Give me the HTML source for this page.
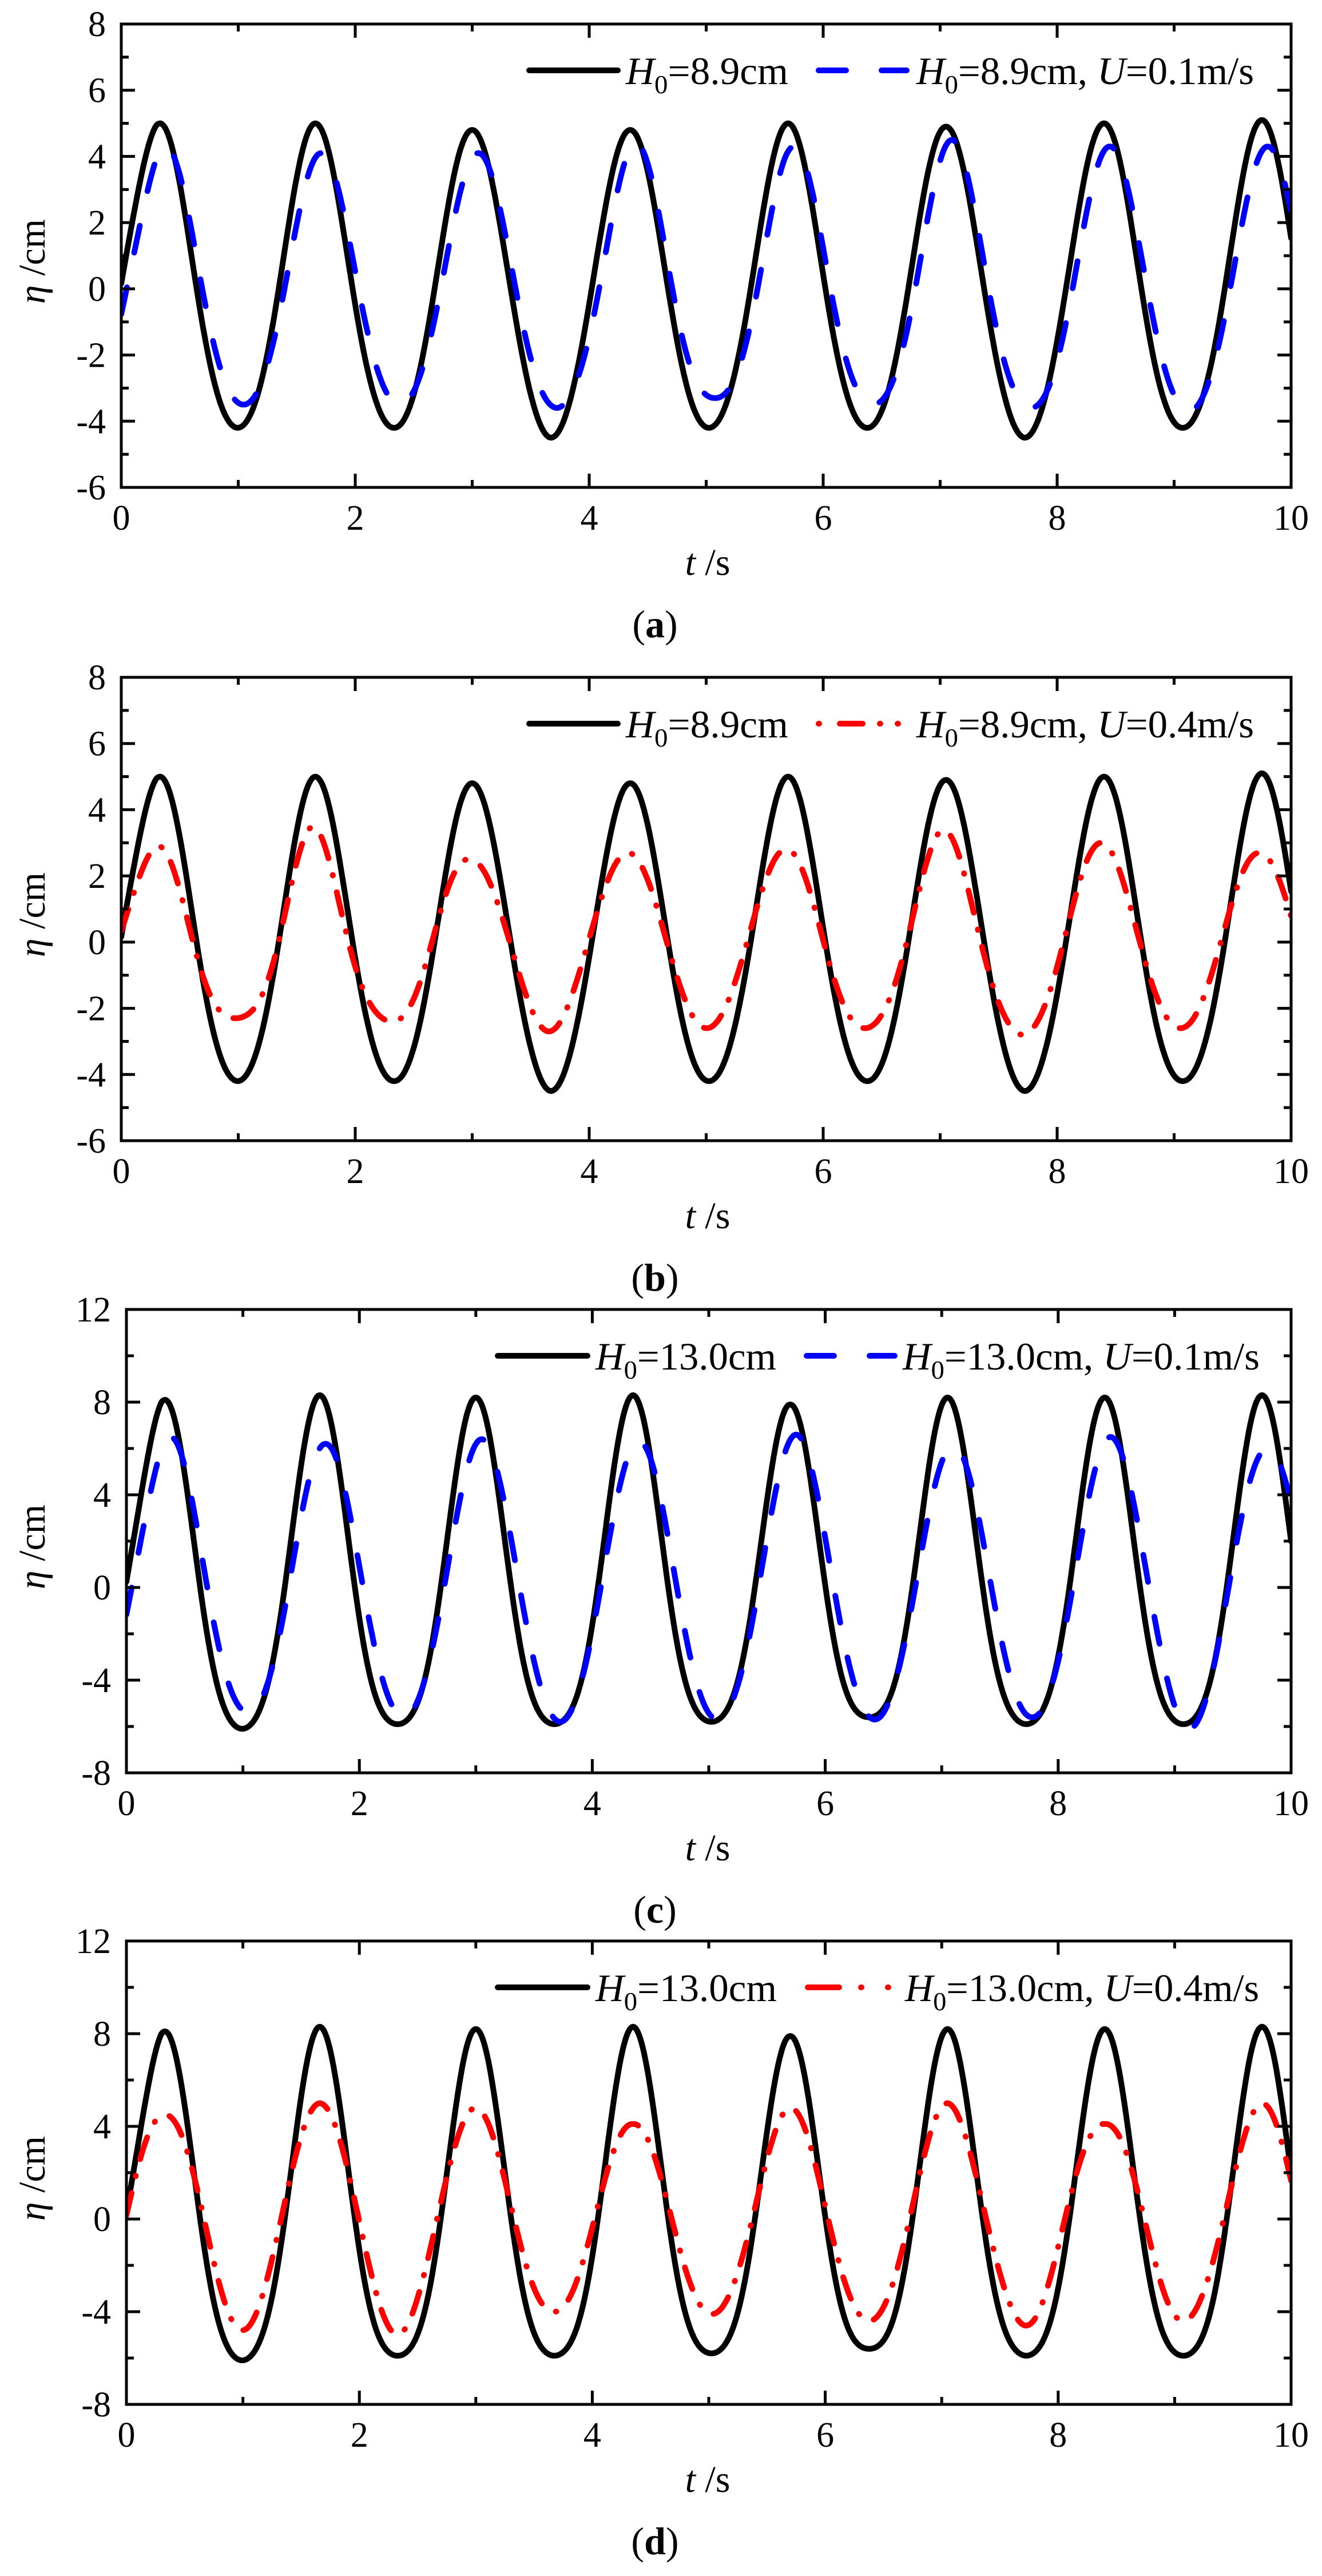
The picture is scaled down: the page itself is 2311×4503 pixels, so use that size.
<!DOCTYPE html>
<html><head><meta charset="utf-8"><style>
html,body{margin:0;padding:0;background:#fff;}
svg{display:block;}
text{font-family:"Liberation Serif",serif;fill:#000;}
</style></head><body>
<svg id="s" width="2311" height="4503" viewBox="0 0 2311 4503" xmlns="http://www.w3.org/2000/svg"></svg>
<script>
const NS="http://www.w3.org/2000/svg";
const S=document.getElementById('s');
function el(tag,attrs,parent,txt){const e=document.createElementNS(NS,tag);for(const k in attrs)e.setAttribute(k,attrs[k]);if(txt!==undefined)e.textContent=txt;(parent||S).appendChild(e);return e;}
const crestT=[0.33,1.66,3.0,4.35,5.7,7.05,8.4,9.75];
function interp(arr,t){
  if(t<=crestT[0])return arr[0];
  for(let i=0;i<arr.length-1&&i<crestT.length-1;i++){if(t<=crestT[i+1]){const f=(t-crestT[i])/(crestT[i+1]-crestT[i]);return arr[i]+(arr[i+1]-arr[i])*f;}}
  return arr[arr.length-1];
}
function phaseAt(t){
  const P=1.35;
  if(t<=crestT[0])return Math.PI/2-(crestT[0]-t)/P*2*Math.PI;
  for(let i=0;i<crestT.length-1;i++){if(t<=crestT[i+1]){const f=(t-crestT[i])/(crestT[i+1]-crestT[i]);return Math.PI/2+2*Math.PI*(i+f);}}
  return Math.PI/2+2*Math.PI*(crestT.length-1)+(t-crestT[crestT.length-1])/P*2*Math.PI;
}
function series(C,T,shift){
  const pts=[];
  for(let i=0;i<=1200;i++){
    const t=i/120;
    const tt=t-shift;
    const th=phaseAt(tt);
    const c=interp(C,tt), tr=interp(T,tt-0.67);
    const A=(c-tr)/2,B=(c+tr)/2;
    pts.push([t,A*Math.sin(th)-B*Math.cos(2*th)*(t<0.3?t/0.3:1)]);
  }
  return pts;
}
function panel(o){
  const L=o.L,R=2257,T=o.top,Bt=o.top+810;
  const xs=t=>L+(R-L)*t/10, ys=v=>Bt-(Bt-T)*(v-o.ymin)/(o.ymax-o.ymin);
  const id='c'+o.top;
  const cp=el('clipPath',{id:id});el('rect',{x:L,y:T,width:R-L,height:Bt-T},cp);
  o.curves.forEach(cv=>{
    const d=cv.pts.map((p,i)=>(i?'L':'M')+xs(p[0]).toFixed(1)+' '+ys(p[1]).toFixed(1)).join('');
    const a={d:d,fill:'none',stroke:cv.color,'stroke-width':10,'stroke-linejoin':'round','stroke-linecap':'round','clip-path':'url(#'+id+')'};
    if(cv.dash)a['stroke-dasharray']=cv.dash;
    el('path',a);
  });
  el('rect',{x:L,y:T,width:R-L,height:Bt-T,fill:'none',stroke:'#000','stroke-width':5});
  for(let t=0;t<=10;t++){
    const x=xs(t),len=t%2?13:24;
    el('line',{x1:x,y1:Bt,x2:x,y2:Bt-len,stroke:'#000','stroke-width':5});
    el('line',{x1:x,y1:T,x2:x,y2:T+len,stroke:'#000','stroke-width':5});
    if(t%2==0)el('text',{x:x,y:Bt+74,'font-size':62,'text-anchor':'middle'},null,String(t));
  }
  for(let v=o.ymin;v<=o.ymax;v+=o.minor){
    const y=ys(v),maj=((v-o.ymin)%o.major)==0,len=maj?24:13;
    el('line',{x1:L,y1:y,x2:L+len,y2:y,stroke:'#000','stroke-width':5});
    el('line',{x1:R,y1:y,x2:R-len,y2:y,stroke:'#000','stroke-width':5});
    if(maj)el('text',{x:L-27,y:y+21,'font-size':62,'text-anchor':'end'},null,String(v));
  }
  const cy=(T+Bt)/2+10;
  const yl=el('text',{x:0,y:0,'font-size':66,'text-anchor':'middle',transform:'translate(78 '+cy+') rotate(-90)'});
  el('tspan',{'font-style':'italic'},yl,'η');el('tspan',{},yl,' /cm');
  const xl=el('text',{x:1237,y:Bt+153,'font-size':66,'text-anchor':'middle'});
  el('tspan',{'font-style':'italic'},xl,'t');el('tspan',{},xl,' /s');
  const pl=el('text',{x:1145,y:Bt+262,'font-size':68,'text-anchor':'middle'});
  el('tspan',{},pl,'(');el('tspan',{'font-weight':'bold'},pl,o.tag);el('tspan',{},pl,')');
  const ly=T+81,lb=T+105;
  el('line',{x1:o.lg.l1[0],y1:ly,x2:o.lg.l1[1],y2:ly,stroke:'#000','stroke-width':10,'stroke-linecap':'round'});
  function ltext(x,w,H,rest){
    const tx=el('text',{x:x,y:lb,'font-size':68,textLength:w,lengthAdjust:'spacingAndGlyphs'});
    el('tspan',{'font-style':'italic'},tx,'H');
    el('tspan',{'font-size':46,dy:16},tx,'0');
    el('tspan',{dy:-16},tx,'='+H+'cm');
    if(rest){el('tspan',{},tx,', ');el('tspan',{'font-style':'italic'},tx,'U');el('tspan',{},tx,'='+rest+'m/s');}
  }
  ltext(o.lg.t1[0],o.lg.t1[1]-o.lg.t1[0],o.H,null);
  const c2=o.curves[1];
  const la={x1:o.lg.l2[0]+5,y1:ly,x2:o.lg.l2[1]-5,y2:ly,stroke:c2.color,'stroke-width':10,'stroke-linecap':'round'};
  la['stroke-dasharray']=o.lg.dash;
  el('line',la);
  ltext(o.lg.t2[0],o.lg.t2[1]-o.lg.t2[0],o.H,o.U);
}
const blueDash='48 62', redDash='40 30 1 30';
const kA=series([5.0,5.0,4.8,4.8,5.0,4.9,5.0,5.1],[-4.2,-4.2,-4.5,-4.2,-4.2,-4.5,-4.2,-4.2],0);
const bA=series([4.3,4.1,4.1,4.4,4.3,4.5,4.3,4.3],[-3.5,-3.5,-3.6,-3.3,-3.5,-3.6,-3.7,-3.7],0.05);
const rB=series([2.9,3.5,2.5,2.7,2.8,3.4,3.0,2.7],[-2.3,-2.4,-2.7,-2.6,-2.6,-2.8,-2.6,-2.6],-0.02);
const kC=series([8.1,8.3,8.2,8.3,7.9,8.2,8.2,8.3],[-6.1,-5.9,-5.9,-5.8,-5.6,-5.9,-5.9,-5.9],0);
const bC=series([6.5,6.2,6.4,6.3,6.6,6.1,6.5,6.0],[-5.4,-5.6,-5.8,-5.7,-5.7,-5.6,-6.1,-6.1],0.05);
const rD=series([4.5,5.0,4.8,4.1,4.8,5.0,4.1,5.0],[-4.8,-5.0,-4.0,-4.1,-4.4,-4.6,-4.4,-4.4],0);
panel({top:42,L:212,ymin:-6,ymax:8,major:2,minor:1,tag:'a',H:'8.9',U:'0.1',
  curves:[{pts:kA,color:'#000'},{pts:bA,color:'#0000ff',dash:blueDash}],
  lg:{l1:[925,1080],t1:[1094,1378],l2:[1426,1590],t2:[1602,2192],dash:'48 62'}});
panel({top:1184,L:212,ymin:-6,ymax:8,major:2,minor:1,tag:'b',H:'8.9',U:'0.4',
  curves:[{pts:kA,color:'#000'},{pts:rB,color:'#ff0000',dash:redDash}],
  lg:{l1:[925,1080],t1:[1094,1378],l2:[1426,1590],t2:[1602,2192],dash:'1 36 40 30 1 30'}});
panel({top:2289,L:221,ymin:-8,ymax:12,major:4,minor:2,tag:'c',H:'13.0',U:'0.1',
  curves:[{pts:kC,color:'#000'},{pts:bC,color:'#0000ff',dash:blueDash}],
  lg:{l1:[870,1027],t1:[1041,1357],l2:[1405,1569],t2:[1578,2202],dash:'48 62'}});
panel({top:3393,L:221,ymin:-8,ymax:12,major:4,minor:2,tag:'d',H:'13.0',U:'0.4',
  curves:[{pts:kC,color:'#000'},{pts:rD,color:'#ff0000',dash:redDash}],
  lg:{l1:[870,1027],t1:[1041,1358],l2:[1407,1560],t2:[1582,2201],dash:'55 38 1 46 1 40'}});
</script>
</body></html>
